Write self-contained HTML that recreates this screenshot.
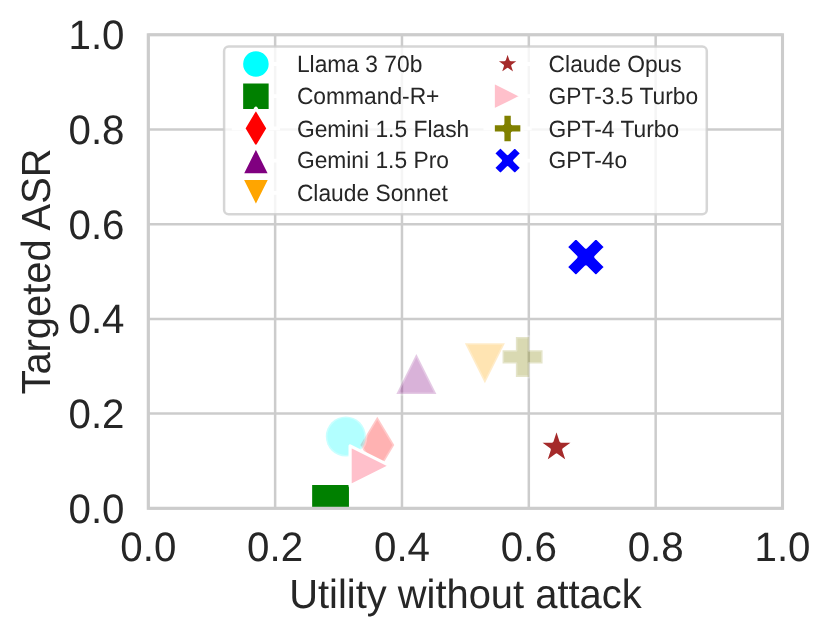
<!DOCTYPE html>
<html><head><meta charset="utf-8"><title>Targeted ASR vs Utility</title>
<style>html,body{margin:0;padding:0;background:#fff;width:831px;height:637px;overflow:hidden}</style>
</head><body>
<svg width="831" height="637" viewBox="0 0 831 637" style="display:block;text-rendering:geometricPrecision">
<rect width="831" height="637" fill="#fff"/>
<line x1="148.30" y1="34.80" x2="148.30" y2="508.30" stroke="#cccccc" stroke-width="2.5"/>
<line x1="148.30" y1="508.30" x2="782.50" y2="508.30" stroke="#cccccc" stroke-width="2.5"/>
<line x1="275.14" y1="34.80" x2="275.14" y2="508.30" stroke="#cccccc" stroke-width="2.5"/>
<line x1="148.30" y1="413.60" x2="782.50" y2="413.60" stroke="#cccccc" stroke-width="2.5"/>
<line x1="401.98" y1="34.80" x2="401.98" y2="508.30" stroke="#cccccc" stroke-width="2.5"/>
<line x1="148.30" y1="318.90" x2="782.50" y2="318.90" stroke="#cccccc" stroke-width="2.5"/>
<line x1="528.82" y1="34.80" x2="528.82" y2="508.30" stroke="#cccccc" stroke-width="2.5"/>
<line x1="148.30" y1="224.20" x2="782.50" y2="224.20" stroke="#cccccc" stroke-width="2.5"/>
<line x1="655.66" y1="34.80" x2="655.66" y2="508.30" stroke="#cccccc" stroke-width="2.5"/>
<line x1="148.30" y1="129.50" x2="782.50" y2="129.50" stroke="#cccccc" stroke-width="2.5"/>
<line x1="782.50" y1="34.80" x2="782.50" y2="508.30" stroke="#cccccc" stroke-width="2.5"/>
<line x1="148.30" y1="34.80" x2="782.50" y2="34.80" stroke="#cccccc" stroke-width="2.5"/>
<defs><clipPath id="ax"><rect x="148.3" y="34.8" width="634.2" height="473.5"/></clipPath></defs>
<g clip-path="url(#ax)">
<polygon points="377.30,473.38 394.27,445.10 377.30,416.82 360.33,445.10" fill="#ff0000" stroke="#fff" stroke-width="3.2" stroke-linejoin="round" fill-opacity="0.3" stroke-opacity="0.3"/>
<circle cx="345.80" cy="436.50" r="20.00" fill="#00ffff" stroke="#fff" stroke-width="3.2" stroke-linejoin="round" fill-opacity="0.3" stroke-opacity="0.3"/>
<polygon points="310.55,523.30 350.55,523.30 350.55,483.30 310.55,483.30" fill="#008000" stroke="#fff" stroke-width="3.2" stroke-linejoin="round"/>
<polygon points="416.35,354.05 396.35,394.05 436.35,394.05" fill="#800080" stroke="#fff" stroke-width="3.2" stroke-linejoin="round" fill-opacity="0.3" stroke-opacity="0.3"/>
<polygon points="484.90,383.25 504.90,343.25 464.90,343.25" fill="#ffa500" stroke="#fff" stroke-width="3.2" stroke-linejoin="round" fill-opacity="0.3" stroke-opacity="0.3"/>
<polygon points="556.50,427.30 552.01,441.12 537.48,441.12 549.23,449.66 544.74,463.48 556.50,454.94 568.26,463.48 563.77,449.66 575.52,441.12 560.99,441.12" fill="#a52a2a" stroke="#fff" stroke-width="3.2" stroke-linejoin="round"/>
<polygon points="390.10,465.90 350.10,445.90 350.10,485.90" fill="#ffc0cb" stroke="#fff" stroke-width="3.2" stroke-linejoin="round"/>
<polygon points="515.88,376.90 529.22,376.90 529.22,363.57 542.55,363.57 542.55,350.23 529.22,350.23 529.22,336.90 515.88,336.90 515.88,350.23 502.55,350.23 502.55,363.57 515.88,363.57" fill="#808000" stroke="#fff" stroke-width="3.2" stroke-linejoin="round" fill-opacity="0.3" stroke-opacity="0.3"/>
<polygon points="575.90,277.00 585.90,267.00 595.90,277.00 605.90,267.00 595.90,257.00 605.90,247.00 595.90,237.00 585.90,247.00 575.90,237.00 565.90,247.00 575.90,257.00 565.90,267.00" fill="#0000ff" stroke="#fff" stroke-width="3.2" stroke-linejoin="round"/>
</g>
<rect x="148.30" y="34.80" width="634.20" height="473.50" fill="none" stroke="#cccccc" stroke-width="3.1" stroke-linejoin="miter"/>
<text transform="translate(124.50 522.70) scale(1 1.02)" font-family="Liberation Sans, Arial, sans-serif" font-size="40.3" fill="#262626" text-anchor="end">0.0</text>
<text transform="translate(148.30 560.60) scale(1 1.02)" font-family="Liberation Sans, Arial, sans-serif" font-size="40.3" fill="#262626" text-anchor="middle">0.0</text>
<text transform="translate(124.50 428.00) scale(1 1.02)" font-family="Liberation Sans, Arial, sans-serif" font-size="40.3" fill="#262626" text-anchor="end">0.2</text>
<text transform="translate(275.14 560.60) scale(1 1.02)" font-family="Liberation Sans, Arial, sans-serif" font-size="40.3" fill="#262626" text-anchor="middle">0.2</text>
<text transform="translate(124.50 333.30) scale(1 1.02)" font-family="Liberation Sans, Arial, sans-serif" font-size="40.3" fill="#262626" text-anchor="end">0.4</text>
<text transform="translate(401.98 560.60) scale(1 1.02)" font-family="Liberation Sans, Arial, sans-serif" font-size="40.3" fill="#262626" text-anchor="middle">0.4</text>
<text transform="translate(124.50 238.60) scale(1 1.02)" font-family="Liberation Sans, Arial, sans-serif" font-size="40.3" fill="#262626" text-anchor="end">0.6</text>
<text transform="translate(528.82 560.60) scale(1 1.02)" font-family="Liberation Sans, Arial, sans-serif" font-size="40.3" fill="#262626" text-anchor="middle">0.6</text>
<text transform="translate(124.50 143.90) scale(1 1.02)" font-family="Liberation Sans, Arial, sans-serif" font-size="40.3" fill="#262626" text-anchor="end">0.8</text>
<text transform="translate(655.66 560.60) scale(1 1.02)" font-family="Liberation Sans, Arial, sans-serif" font-size="40.3" fill="#262626" text-anchor="middle">0.8</text>
<text transform="translate(124.50 49.20) scale(1 1.02)" font-family="Liberation Sans, Arial, sans-serif" font-size="40.3" fill="#262626" text-anchor="end">1.0</text>
<text transform="translate(782.50 560.60) scale(1 1.02)" font-family="Liberation Sans, Arial, sans-serif" font-size="40.3" fill="#262626" text-anchor="middle">1.0</text>
<text transform="translate(465.40 607.50) scale(1 1.02)" font-family="Liberation Sans, Arial, sans-serif" font-size="39.9" fill="#262626" text-anchor="middle">Utility without attack</text>
<text transform="translate(49.50 271.50) rotate(-90) scale(1 1.02)" font-family="Liberation Sans, Arial, sans-serif" font-size="39.9" fill="#262626" text-anchor="middle">Targeted ASR</text>
<rect x="224.10" y="46.50" width="482.70" height="167.70" rx="4.56" fill="#fff" fill-opacity="0.8" stroke="#cccccc" stroke-opacity="0.8" stroke-width="2.5"/>
<line x1="231.80" y1="64.00" x2="280.00" y2="64.00" stroke="#fff" stroke-width="3.8"/>
<circle cx="255.90" cy="64.00" r="14.35" fill="#00ffff" stroke="#fff" stroke-width="3.2" stroke-linejoin="round"/>
<text transform="translate(296.90 71.90) scale(1 1.03)" font-family="Liberation Sans, Arial, sans-serif" font-size="22.8" fill="#262626">Llama 3 70b</text>
<line x1="231.80" y1="96.20" x2="280.00" y2="96.20" stroke="#fff" stroke-width="3.8"/>
<polygon points="241.55,110.55 270.25,110.55 270.25,81.85 241.55,81.85" fill="#008000" stroke="#fff" stroke-width="3.2" stroke-linejoin="round"/>
<text transform="translate(296.90 103.90) scale(1 1.03)" font-family="Liberation Sans, Arial, sans-serif" font-size="22.8" fill="#262626">Command-R+</text>
<line x1="231.80" y1="128.40" x2="280.00" y2="128.40" stroke="#fff" stroke-width="3.8"/>
<polygon points="255.90,148.69 268.08,128.40 255.90,108.11 243.72,128.40" fill="#ff0000" stroke="#fff" stroke-width="3.2" stroke-linejoin="round"/>
<text transform="translate(296.90 136.70) scale(1 1.03)" font-family="Liberation Sans, Arial, sans-serif" font-size="22.8" fill="#262626">Gemini 1.5 Flash</text>
<line x1="231.80" y1="160.60" x2="280.00" y2="160.60" stroke="#fff" stroke-width="3.8"/>
<polygon points="255.90,146.25 241.55,174.95 270.25,174.95" fill="#800080" stroke="#fff" stroke-width="3.2" stroke-linejoin="round"/>
<text transform="translate(296.90 168.40) scale(1 1.03)" font-family="Liberation Sans, Arial, sans-serif" font-size="22.8" fill="#262626">Gemini 1.5 Pro</text>
<line x1="231.80" y1="192.80" x2="280.00" y2="192.80" stroke="#fff" stroke-width="3.8"/>
<polygon points="255.90,207.15 270.25,178.45 241.55,178.45" fill="#ffa500" stroke="#fff" stroke-width="3.2" stroke-linejoin="round"/>
<text transform="translate(296.90 200.90) scale(1 1.03)" font-family="Liberation Sans, Arial, sans-serif" font-size="22.8" fill="#262626">Claude Sonnet</text>
<line x1="483.50" y1="64.00" x2="531.70" y2="64.00" stroke="#fff" stroke-width="3.8"/>
<polygon points="507.60,49.65 504.38,59.57 493.95,59.57 502.39,65.69 499.17,75.61 507.60,69.48 516.03,75.61 512.81,65.69 521.25,59.57 510.82,59.57" fill="#a52a2a" stroke="#fff" stroke-width="3.2" stroke-linejoin="round"/>
<text transform="translate(548.60 71.90) scale(1 1.03)" font-family="Liberation Sans, Arial, sans-serif" font-size="22.8" fill="#262626">Claude Opus</text>
<line x1="483.50" y1="96.20" x2="531.70" y2="96.20" stroke="#fff" stroke-width="3.8"/>
<polygon points="521.95,96.20 493.25,81.85 493.25,110.55" fill="#ffc0cb" stroke="#fff" stroke-width="3.2" stroke-linejoin="round"/>
<text transform="translate(548.60 103.90) scale(1 1.03)" font-family="Liberation Sans, Arial, sans-serif" font-size="22.8" fill="#262626">GPT-3.5 Turbo</text>
<line x1="483.50" y1="128.40" x2="531.70" y2="128.40" stroke="#fff" stroke-width="3.8"/>
<polygon points="502.82,142.75 512.38,142.75 512.38,133.18 521.95,133.18 521.95,123.62 512.38,123.62 512.38,114.05 502.82,114.05 502.82,123.62 493.25,123.62 493.25,133.18 502.82,133.18" fill="#808000" stroke="#fff" stroke-width="3.2" stroke-linejoin="round"/>
<text transform="translate(548.60 136.70) scale(1 1.03)" font-family="Liberation Sans, Arial, sans-serif" font-size="22.8" fill="#262626">GPT-4 Turbo</text>
<line x1="483.50" y1="160.60" x2="531.70" y2="160.60" stroke="#fff" stroke-width="3.8"/>
<polygon points="500.43,174.95 507.60,167.78 514.77,174.95 521.95,167.78 514.77,160.60 521.95,153.43 514.77,146.25 507.60,153.43 500.43,146.25 493.25,153.43 500.43,160.60 493.25,167.78" fill="#0000ff" stroke="#fff" stroke-width="3.2" stroke-linejoin="round"/>
<text transform="translate(548.60 168.40) scale(1 1.03)" font-family="Liberation Sans, Arial, sans-serif" font-size="22.8" fill="#262626">GPT-4o</text>
</svg>
</body></html>
